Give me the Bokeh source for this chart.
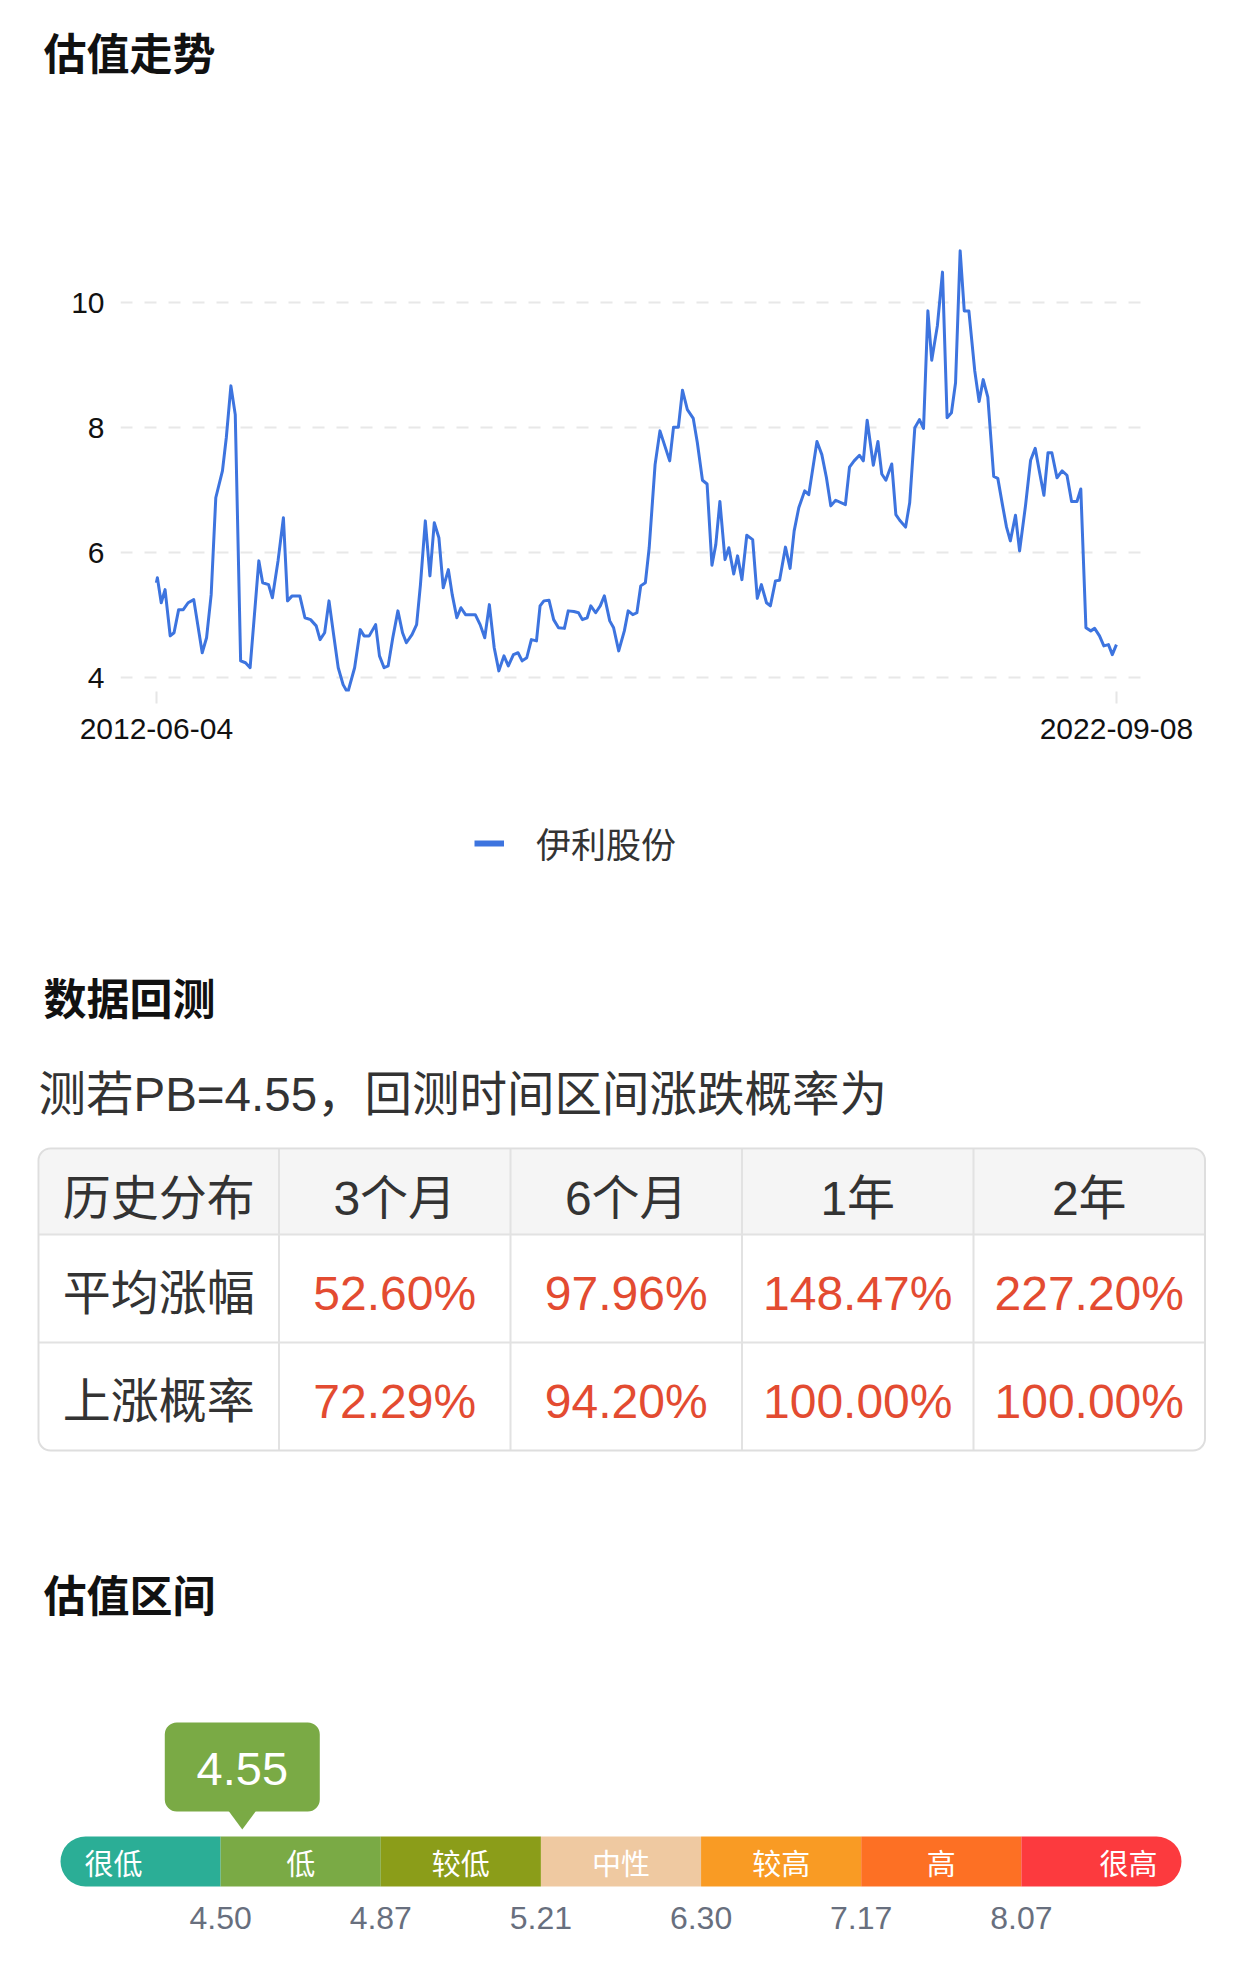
import numpy as np
import pandas as pd
from bokeh.plotting import figure
from bokeh.layouts import column
from bokeh.models import (Range1d, FixedTicker, DatetimeTickFormatter, Legend,
                          LegendItem, ColumnDataSource)
from bokeh.core.properties import value
from bokeh.embed import file_html
from bokeh.resources import INLINE

# ---------------- data ----------------
start_date = "2012-06-04"
end_date = "2022-09-08"
series_name = "伊利股份"
days_from_start = [
    0, 4, 19, 34, 54, 69, 87, 105, 124, 146, 179, 196, 214, 232, 258, 273, 291, 308, 329, 348,
    366, 400, 415, 438, 453, 475, 496, 512, 530, 560, 580, 602, 624, 639, 657, 674, 692, 710, 729, 747,
    774, 796, 811, 831, 856, 871, 889, 905, 923, 943, 961, 976, 998, 1016, 1031, 1050, 1068, 1085, 1103, 1120,
    1140, 1155, 1173, 1189, 1207, 1245, 1264, 1282, 1300, 1319, 1337, 1357, 1374, 1394, 1412, 1428, 1446, 1464, 1484, 1498,
    1513, 1533, 1551, 1570, 1593, 1608, 1630, 1648, 1663, 1682, 1696, 1715, 1733, 1749, 1770, 1785, 1805, 1827, 1842, 1860,
    1876, 1891, 1909, 1924, 1947, 1966,
    2004, 2019, 2038, 2054, 2073, 2096, 2112, 2132, 2150, 2169, 2184, 2200, 2220, 2235, 2254, 2269, 2286, 2305, 2328, 2346,
    2362, 2382, 2397, 2417, 2433, 2456, 2474, 2490, 2508, 2531, 2547, 2579, 2598, 2616, 2633, 2652, 2690, 2706, 2724, 2745,
    2760, 2775, 2799, 2817, 2832, 2848, 2871, 2887, 2902, 2925, 2941, 2961, 2979, 2995, 3012, 3027, 3049, 3069, 3087, 3104,
    3120, 3138, 3154, 3172, 3195, 3212, 3228, 3246, 3269, 3285, 3303, 3319, 3334, 3354, 3370, 3393, 3413, 3431, 3447, 3465,
    3481, 3496, 3516, 3536, 3555, 3573, 3594, 3609, 3629, 3648, 3663, 3682, 3699, 3717, 3732, 3748]
pb_values = [
    5.52, 5.6, 5.2, 5.41, 4.67, 4.72, 5.09, 5.09, 5.2, 5.25, 4.4, 4.64, 5.33, 6.88, 7.31, 7.84, 8.67, 8.21, 4.27, 4.24,
    4.16, 5.87, 5.52, 5.49, 5.28, 5.87, 6.56, 5.23, 5.31, 5.31, 4.96, 4.93, 4.83, 4.61, 4.72, 5.23, 4.69, 4.16, 3.89, 3.76,
    4.16, 4.77, 4.67, 4.67, 4.85, 4.35, 4.16, 4.19, 4.64, 5.07, 4.72, 4.56, 4.69, 4.85, 5.49, 6.51, 5.63, 6.48, 6.24, 5.44,
    5.73, 5.33, 4.96, 5.12, 5.01, 5.01, 4.85, 4.64, 5.17, 4.48, 4.11, 4.35, 4.19, 4.37, 4.4, 4.27, 4.32, 4.61, 4.59, 5.15,
    5.23, 5.24, 4.93, 4.8, 4.79, 5.07, 5.06, 5.04, 4.93, 4.96, 5.15, 5.04, 5.15, 5.31, 4.91, 4.8, 4.43, 4.75, 5.07, 5.01,
    5.04, 5.47, 5.52, 6.08, 7.41, 7.95,
    7.47, 8.01, 8.01, 8.6, 8.29, 8.15, 7.76, 7.16, 7.1, 5.8, 6.13, 6.82, 5.89, 6.08, 5.66, 5.95, 5.57, 6.28, 6.21, 5.27,
    5.49, 5.2, 5.15, 5.55, 5.56, 6.09, 5.75, 6.35, 6.72, 6.99, 6.93, 7.78, 7.57, 7.2, 6.75, 6.84, 6.77, 7.37, 7.47, 7.56,
    7.47, 8.12, 7.4, 7.78, 7.26, 7.16, 7.42, 6.61, 6.52, 6.41, 6.8, 8.0, 8.13, 7.99, 9.87, 9.08, 9.63, 10.49, 8.16, 8.24,
    8.72, 10.83, 9.87, 9.87, 8.91, 8.42, 8.77, 8.49, 7.22, 7.19, 6.77, 6.41, 6.19, 6.6, 6.03, 6.75, 7.48, 7.67, 7.31, 6.92,
    7.6, 7.6, 7.2, 7.31, 7.24, 6.82, 6.82, 7.02, 4.8, 4.75, 4.79, 4.67, 4.51, 4.53, 4.37, 4.53]
y_ticks = [4, 6, 8, 10]

current_pb = 4.55
table_header_first = "历史分布"
periods = ["3个月", "6个月", "1年", "2年"]
row_names = ["平均涨幅", "上涨概率"]
avg_gain = [52.60, 97.96, 148.47, 227.20]
up_prob = [72.29, 94.20, 100.00, 100.00]

zone_names = ["很低", "低", "较低", "中性", "较高", "高", "很高"]
zone_colors = ["#2bae96", "#7aaa45", "#8b9d19", "#efc9a1", "#f99b24", "#fd7024", "#fc3a3e"]
zone_bounds = [4.50, 4.87, 5.21, 6.30, 7.17, 8.07]

# ---------------- styles ----------------
W = 1226
CJK = "Noto Sans CJK SC"
LAT = "Liberation Sans, Noto Sans CJK SC"
LINE_COLOR = "#3d74df"
DARK = "#333333"
RED = "#e34b31"
GRID = "#e2e2e2"


def text_fig(h):
    f = figure(width=W, height=h, x_range=Range1d(0, W), y_range=Range1d(0, h),
               output_backend="svg", toolbar_location=None, min_border=0,
               x_axis_location=None, y_axis_location=None, frame_align=False)
    f.grid.visible = False
    f.outline_line_color = None
    return f


def title(f, h, x, y_top, txt):
    f.text(x=[x], y=[h - y_top], text=[txt], text_font=value(CJK), text_font_size=value("43px"),
           text_font_style="bold", text_color="#111111", text_baseline="middle", text_align="left")


# ---- block 1: title ----
H1 = 108
t1 = text_fig(H1)
title(t1, H1, 43, 50, "估值走势")

# ---- block 2: line chart ----
t0 = pd.Timestamp(start_date)
t_end = pd.Timestamp(end_date)
dates = t0 + pd.to_timedelta(days_from_start, unit="D")
src = ColumnDataSource(dict(date=dates, pb=pb_values))

H2 = 652
p = figure(width=W, height=H2, x_axis_type="datetime",
           x_range=Range1d(t0 - pd.Timedelta(days=140), t_end + pd.Timedelta(days=137)),
           y_range=Range1d(3.78, 10.9),
           output_backend="svg", toolbar_location=None, frame_align=False,
           min_border_left=120, min_border_right=75, min_border_top=138, min_border_bottom=69)
p.outline_line_color = None
p.line("date", "pb", source=src, line_color=LINE_COLOR, line_width=3, line_join="round")

p.yaxis.ticker = FixedTicker(ticks=y_ticks)
p.yaxis.axis_line_color = None
p.yaxis.major_tick_line_color = None
p.yaxis.minor_tick_line_color = None
p.yaxis.major_tick_out = 0
p.yaxis.major_label_standoff = 16
p.yaxis.major_label_text_font = LAT
p.yaxis.major_label_text_font_size = "30px"
p.yaxis.major_label_text_color = "#111111"

ms = lambda t: t.value / 1e6
p.xaxis.ticker = FixedTicker(ticks=[ms(t0), ms(t_end)])
fmt = "%Y-%m-%d"
p.xaxis.formatter = DatetimeTickFormatter(microseconds=fmt, milliseconds=fmt, seconds=fmt, minsec=fmt,
                                          minutes=fmt, hourmin=fmt, hours=fmt, days=fmt, months=fmt, years=fmt)
p.xaxis.axis_line_color = None
p.xaxis.minor_tick_line_color = None
p.xaxis.major_tick_in = 0
p.xaxis.major_tick_out = 12
p.xaxis.major_tick_line_color = "#e6e6e6"
p.xaxis.major_tick_line_width = 2
p.xaxis.major_label_standoff = 15
p.xaxis.major_label_text_font = LAT
p.xaxis.major_label_text_font_size = "30px"
p.xaxis.major_label_text_color = "#111111"

p.xgrid.visible = False
p.ygrid.grid_line_color = "#e8e8e8"
p.ygrid.grid_line_width = 2
p.ygrid.grid_line_dash = "12 12"

# ---- block 3: legend ----
H3 = 145
lg = text_fig(H3)
dummy = lg.line(x=[np.nan], y=[np.nan], line_color=LINE_COLOR, line_width=6)
legend = Legend(items=[LegendItem(label=series_name, renderers=[dummy])], location=(474, 37),
                orientation="horizontal", glyph_width=30, glyph_height=40, label_height=40,
                label_standoff=32, padding=0, margin=0, border_line_color=None,
                background_fill_alpha=0, label_text_font=CJK, label_text_font_size="35px",
                label_text_color=DARK)
lg.add_layout(legend)

# ---- block 4: back-test table ----
H4 = 755
bt = text_fig(H4)
title(bt, H4, 43, 90, "数据回测")
bt.text(x=[38], y=[H4 - 189], text=[f"测若PB={current_pb:.2f}，回测时间区间涨跌概率为"],
        text_font=value(LAT), text_font_size=value("47.5px"), text_color=DARK,
        text_baseline="middle", text_align="left")

tab_left = 38
col_w = [240.5] + [231.5] * len(periods)
edges = np.concatenate([[tab_left], tab_left + np.cumsum(col_w)])
tab_right = edges[-1]
row_edges_top = [243, 329, 437, 545]          # distance from block top
ry = [H4 - v for v in row_edges_top]
tab_cx = (tab_left + tab_right) / 2

bt.rect(x=[tab_cx], y=[(ry[0] + ry[-1]) / 2], width=[tab_right - tab_left], height=[ry[0] - ry[-1]],
        fill_color="white", line_color=None, border_radius=12)
bt.quad(left=[tab_left + 1], right=[tab_right - 1], top=[ry[0] - 1], bottom=[ry[1]],
        fill_color="#f5f5f5", line_color=None, border_radius=(11, 11, 0, 0))
bt.segment(x0=list(edges[1:-1]), y0=[ry[0]] * (len(edges) - 2), x1=list(edges[1:-1]),
           y1=[ry[-1]] * (len(edges) - 2), line_color=GRID, line_width=2)
bt.segment(x0=[tab_left] * 2, y0=ry[1:3], x1=[tab_right] * 2, y1=ry[1:3], line_color=GRID, line_width=2)
bt.rect(x=[tab_cx], y=[(ry[0] + ry[-1]) / 2], width=[tab_right - tab_left], height=[ry[0] - ry[-1]],
        fill_color=None, line_color="#dedede", line_width=2, border_radius=12)

col_cx = list((edges[:-1] + edges[1:]) / 2)
text_rows_top = [293, 388, 496]
bt.text(x=col_cx, y=[H4 - text_rows_top[0]] * len(col_cx), text=[table_header_first] + periods,
        text_font=value(LAT), text_font_size=value("48px"), text_color=DARK,
        text_baseline="middle", text_align="center")
for ri, (name, vals) in enumerate(zip(row_names, [avg_gain, up_prob])):
    yy = H4 - text_rows_top[ri + 1]
    bt.text(x=[col_cx[0]], y=[yy], text=[name], text_font=value(LAT), text_font_size=value("48px"),
            text_color=DARK, text_baseline="middle", text_align="center")
    bt.text(x=col_cx[1:], y=[yy] * len(vals), text=[f"{v:.2f}%" for v in vals],
            text_font=value(LAT), text_font_size=value("48px"), text_color=RED,
            text_baseline="middle", text_align="center")

title(bt, H4, 43, 687, "估值区间")

# ---- block 5: valuation range bar ----
H5 = 291
UNIT = 160.14
LEFT = 60
bar = figure(width=W, height=H5, x_range=Range1d(-LEFT / UNIT, (W - LEFT) / UNIT), y_range=Range1d(0, H5),
             output_backend="svg", toolbar_location=None, min_border=0, frame_align=False,
             x_axis_location=None, y_axis_location=None)
bar.grid.visible = False
bar.outline_line_color = None

bar_cy = H5 - 201
half = 25
n = len(zone_names)
idx = np.arange(n)
bar.quad(left=[0], right=[1], top=[bar_cy + half], bottom=[bar_cy - half],
         fill_color=zone_colors[0], line_color=None, border_radius=(25, 0, 0, 25))
bar.quad(left=list(idx[1:-1]), right=list(idx[1:-1] + 1), top=[bar_cy + half] * (n - 2),
         bottom=[bar_cy - half] * (n - 2), fill_color=zone_colors[1:-1], line_color=None)
bar.quad(left=[n - 1], right=[n], top=[bar_cy + half], bottom=[bar_cy - half],
         fill_color=zone_colors[-1], line_color=None, border_radius=(0, 25, 25, 0))

offsets = [0] * n
offsets[0] = -27
offsets[-1] = 27
bar.text(x=list(idx + 0.5), y=[bar_cy] * n, text=zone_names, x_offset=offsets,
         text_font=value(CJK), text_font_size=value("29px"), text_color="white",
         text_baseline="middle", text_align="center")
bar.text(x=list(range(1, n)), y=[H5 - 257] * (n - 1), text=[f"{b:.2f}" for b in zone_bounds],
         text_font=value(LAT), text_font_size=value("32px"), text_color="#686f7e",
         text_baseline="middle", text_align="center")

pos = float(np.interp(current_pb, zone_bounds, np.arange(1, n)))
MARK = "#7aaa45"
bar.rect(x=[pos], y=[H5 - 106.5], width=155, height=89, width_units="screen", height_units="screen",
         fill_color=MARK, line_color=None, border_radius=12)
bar.patch(x=[pos - 14 / UNIT, pos + 14 / UNIT, pos], y=[H5 - 150, H5 - 150, H5 - 169],
          fill_color=MARK, line_color=None)
bar.text(x=[pos], y=[H5 - 108], text=[f"{current_pb:.2f}"], text_font=value(LAT),
         text_font_size=value("47px"), text_color="white", text_baseline="middle", text_align="center")

layout = column(t1, p, lg, bt, bar)
open("out.html", "w").write(file_html(layout, INLINE))
